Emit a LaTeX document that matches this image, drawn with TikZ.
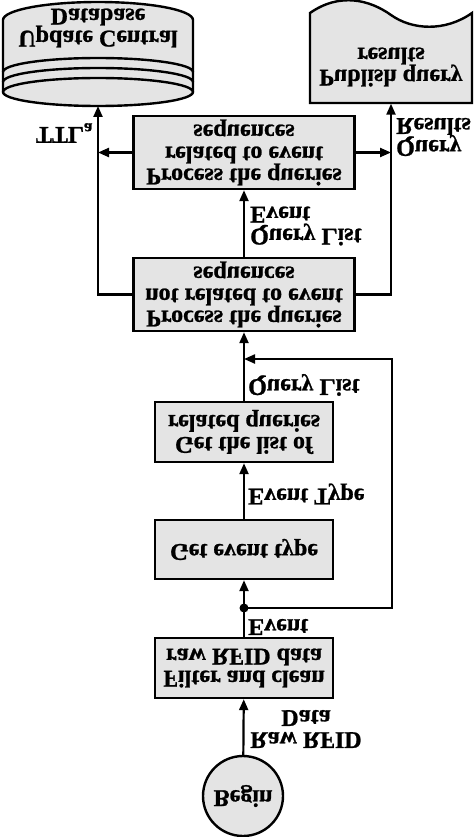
\documentclass[tikz,border=0pt]{standalone}
\usepackage{fontspec}
\setmainfont{Liberation Serif}[BoldFeatures={FakeBold=1}]
\usetikzlibrary{arrows.meta,calc}
\definecolor{boxgray}{HTML}{E4E4E4}
\tikzset{
    box/.style={draw, line width=2.4pt, fill=boxgray, minimum height=60pt,
                minimum width=178pt, inner sep=2pt, align=center},
    widebox/.style={box, minimum width=221pt, minimum height=73pt},
    startnode/.style={circle, draw, line width=2.4pt, fill=boxgray,
                      minimum size=80pt, inner sep=0pt},
    flow/.style={-{Triangle[length=11pt, width=9pt]}, line width=2.2pt},
    plain/.style={line width=2.2pt},
    note/.style={align=left, inner sep=0pt},
    drum/.style={line width=2.4pt},
}

\begin{document}
\begin{tikzpicture}[x=1pt, y=-1pt,
    font=\fontsize{24}{22}\selectfont\bfseries,
    every node/.append style={yscale=-1}]
    \path[use as bounding box] (0,0) rectangle (474,837);

    % the central database drum
    \filldraw[drum, fill=boxgray] (3,92) -- (3,20)
        arc[start angle=180, end angle=360, x radius=95, y radius=18]
        -- (193,92)
        arc[start angle=0, end angle=180, x radius=95, y radius=14] -- cycle;
    \draw[drum] (3,92) arc[start angle=180, end angle=360, x radius=95, y radius=14];
    \draw[drum] (3,82) arc[start angle=180, end angle=360, x radius=95, y radius=14];
    \draw[drum] (3,72) arc[start angle=180, end angle=360, x radius=95, y radius=14];
    \node[align=center] (central) at (98,28) {Update Central\\Database};
    \coordinate (centralbase) at (98,106);

    % the published results sheet
    \filldraw[drum, fill=boxgray] (310,103) -- (310,13)
        .. controls (340,-8) and (370,0) .. (391,15)
        .. controls (412,30) and (445,32) .. (472,13) -- (472,103) -- cycle;
    \node[align=center, minimum width=162pt, minimum height=73pt,
          inner sep=0pt] (publish) at (391,67) {Publish query\\results};

    \node[startnode] (begin) at (243,796) {Begin};
    \node[box] (filter) at (244,668) {Filter and clean\\raw RFID data};
    \node[box, minimum height=59pt] (gettype) at (244,549.5) {Get event type};
    \node[box] (getlist) at (244,432) {Get the list of\\related queries};
    \node[widebox] (procnot) at (244,294.5)
        {Process the queries\\not related to event\\sequences};
    \node[widebox] (procrel) at (244,152.5)
        {Process the queries\\related to event\\sequences};

    \coordinate (split) at (244,608);
    \coordinate (loop) at (244,359);

    \draw[flow] (begin) -- (filter);
    \draw[plain] (filter) -- (split);
    \draw[flow] (split) -- (gettype);
    \draw[flow] (gettype) -- (getlist);
    \draw[flow] (getlist) -- (procnot);
    \draw[flow] (procnot) -- (procrel);
    \fill (split) circle (4.5pt);
    \draw[flow] (split) -- ++(148,0) |- (loop);

    \draw[flow] (procnot.west) -| (centralbase);
    \draw[flow] (procnot.east) -| (publish);
    \draw[flow] (procrel.west) -- (procrel.west -| centralbase);
    \draw[flow] (procrel.east) -- (procrel.east -| publish);

    \node[align=center] (rawlabel) at (306,729) {Raw RFID\\Data};
    \node[note, anchor=west] (eventlabel) at (248,627) {Event};
    \node[note, anchor=west] (typelabel) at (248,494) {Event Type};
    \node[note, anchor=west] (listlabel) at (248,385) {Query List};
    \node[note, anchor=west] (listevent) at (250,226) {Query List\\Event};
    \node[note, anchor=east] (ttllabel) at (93,133) {TTL\textsubscript{a}};
    \node[note, anchor=west] (resultlabel) at (396,137) {Query\\Results};
\end{tikzpicture}
\end{document}
